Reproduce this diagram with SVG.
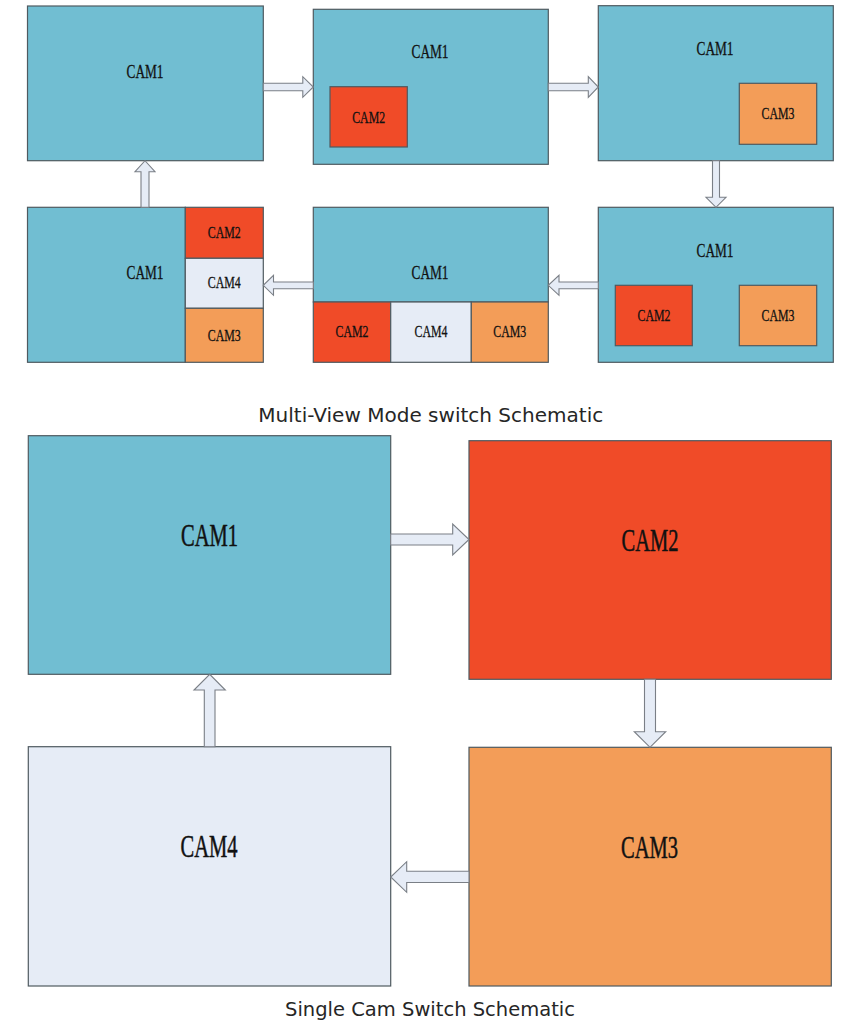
<svg xmlns="http://www.w3.org/2000/svg" width="864" height="1024" viewBox="0 0 864 1024">
<style>
.bg{fill:#ffffff}
.box{stroke:#4f5a60;stroke-width:1.2}
.teal{fill:#71BED2}
.red{fill:#F04B28}
.org{fill:#F39D58}
.lit{fill:#E6ECF6}
.arr{fill:#E6ECF6;stroke:#7a7f86;stroke-width:1.1;stroke-linejoin:miter}
.lbl{font-family:"Liberation Serif","Times New Roman",serif;fill:#111;stroke:#111;stroke-width:0.3;text-anchor:middle}
.s1{font-size:19px}
.s2{font-size:17.5px}
.s3{font-size:31px;stroke-width:0.5}
.cap{font-family:"DejaVu Sans","Liberation Sans",sans-serif;font-size:20px;fill:#262626;text-anchor:middle}
</style>
<rect class="bg" x="0" y="0" width="864" height="1024"/>

<g id="mv-a">
<rect class="box teal" x="27.5" y="6" width="235.8" height="154.7"/>
<text class="lbl s1" x="145" y="78" textLength="37" lengthAdjust="spacingAndGlyphs">CAM1</text>
</g>
<g id="mv-b">
<rect class="box teal" x="313.3" y="9.3" width="235" height="155"/>
<text class="lbl s1" x="430" y="58" textLength="37" lengthAdjust="spacingAndGlyphs">CAM1</text>
<rect class="box red" x="330" y="86.7" width="77.3" height="60.3"/>
<text class="lbl s2" x="368.7" y="122.5" textLength="33" lengthAdjust="spacingAndGlyphs">CAM2</text>
</g>
<g id="mv-c">
<rect class="box teal" x="598.3" y="5.7" width="235" height="155"/>
<text class="lbl s1" x="715" y="55" textLength="37" lengthAdjust="spacingAndGlyphs">CAM1</text>
<rect class="box org" x="739.3" y="83.3" width="77.4" height="61"/>
<text class="lbl s2" x="778" y="119" textLength="33" lengthAdjust="spacingAndGlyphs">CAM3</text>
</g>
<g id="mv-d">
<rect class="box teal" x="598.3" y="207.3" width="235" height="155"/>
<text class="lbl s1" x="715" y="256.5" textLength="37" lengthAdjust="spacingAndGlyphs">CAM1</text>
<rect class="box red" x="615.3" y="285.3" width="77" height="60.4"/>
<text class="lbl s2" x="654" y="321" textLength="33" lengthAdjust="spacingAndGlyphs">CAM2</text>
<rect class="box org" x="739.3" y="285.3" width="77.4" height="60.4"/>
<text class="lbl s2" x="778" y="321" textLength="33" lengthAdjust="spacingAndGlyphs">CAM3</text>
</g>
<g id="mv-e">
<rect class="box teal" x="313.3" y="207.3" width="235" height="94.7"/>
<text class="lbl s1" x="430" y="279" textLength="37" lengthAdjust="spacingAndGlyphs">CAM1</text>
<rect class="box red" x="313.3" y="302" width="77.4" height="60.3"/>
<text class="lbl s2" x="352" y="337" textLength="33" lengthAdjust="spacingAndGlyphs">CAM2</text>
<rect class="box lit" x="390.7" y="302" width="80.6" height="60.3"/>
<text class="lbl s2" x="431" y="337" textLength="33" lengthAdjust="spacingAndGlyphs">CAM4</text>
<rect class="box org" x="471.3" y="302" width="77" height="60.3"/>
<text class="lbl s2" x="509.8" y="337" textLength="33" lengthAdjust="spacingAndGlyphs">CAM3</text>
</g>
<g id="mv-f">
<rect class="box teal" x="27.5" y="207.3" width="157.8" height="155"/>
<text class="lbl s1" x="145" y="279" textLength="37" lengthAdjust="spacingAndGlyphs">CAM1</text>
<rect class="box red" x="185.3" y="207.3" width="78" height="51"/>
<text class="lbl s2" x="224.3" y="238.3" textLength="33" lengthAdjust="spacingAndGlyphs">CAM2</text>
<rect class="box lit" x="185.3" y="258.3" width="78" height="50"/>
<text class="lbl s2" x="224.3" y="288.3" textLength="33" lengthAdjust="spacingAndGlyphs">CAM4</text>
<rect class="box org" x="185.3" y="308.3" width="78" height="54"/>
<text class="lbl s2" x="224.3" y="340.7" textLength="33" lengthAdjust="spacingAndGlyphs">CAM3</text>
</g>

<g id="sc-cam1">
<rect class="box teal" x="28.3" y="435.7" width="362.4" height="238.6"/>
<text class="lbl s3" x="209.5" y="546" textLength="57" lengthAdjust="spacingAndGlyphs">CAM1</text>
</g>
<g id="sc-cam2">
<rect class="box red" x="469" y="440.7" width="362.3" height="238.6"/>
<text class="lbl s3" x="650" y="551" textLength="57" lengthAdjust="spacingAndGlyphs">CAM2</text>
</g>
<g id="sc-cam3">
<rect class="box org" x="469" y="747.3" width="362.3" height="238.7"/>
<text class="lbl s3" x="649.5" y="858" textLength="57" lengthAdjust="spacingAndGlyphs">CAM3</text>
</g>
<g id="sc-cam4">
<rect class="box lit" x="28.3" y="746.7" width="362.4" height="239.3"/>
<text class="lbl s3" x="209" y="857" textLength="57" lengthAdjust="spacingAndGlyphs">CAM4</text>
</g>

<g id="connectors">
<polygon class="arr" points="263.3,83.3 302.8,83.3 302.8,76.7 313.3,87 302.8,97.3 302.8,90.7 263.3,90.7"/>
<polygon class="arr" points="548.3,83.3 588.3,83.3 588.3,76.7 598.3,87 588.3,97.3 588.3,90.7 548.3,90.7"/>
<polygon class="arr" points="712.5,160.7 719.5,160.7 719.5,197.3 726,197.3 716,207.3 706,197.3 712.5,197.3"/>
<polygon class="arr" points="598.3,282 559,282 559,275.3 548.3,285.3 559,295.3 559,288.7 598.3,288.7"/>
<polygon class="arr" points="313.3,282 273.5,282 273.5,275.3 263.3,285.3 273.5,295.3 273.5,288.7 313.3,288.7"/>
<polygon class="arr" points="141,207.3 141,171.7 135,171.7 145,160.7 155,171.7 149,171.7 149,207.3"/>
<polygon class="arr" points="390.7,534 452.7,534 452.7,524 469,539.5 452.7,555 452.7,545 390.7,545"/>
<polygon class="arr" points="644.5,679.3 655.5,679.3 655.5,731.7 665.7,731.7 650,747.3 634.3,731.7 644.5,731.7"/>
<polygon class="arr" points="469,871.2 406.7,871.2 406.7,861.7 390.7,877 406.7,892.3 406.7,882.5 469,882.5"/>
<polygon class="arr" points="204.3,746.7 204.3,690 194,690 209.7,674.3 225.3,690 215,690 215,746.7"/>
</g>

<text class="cap" x="430.8" y="421.7" textLength="345" lengthAdjust="spacingAndGlyphs">Multi-View Mode switch Schematic</text>
<text class="cap" x="430" y="1015.7" textLength="290" lengthAdjust="spacingAndGlyphs">Single Cam Switch Schematic</text>
</svg>
